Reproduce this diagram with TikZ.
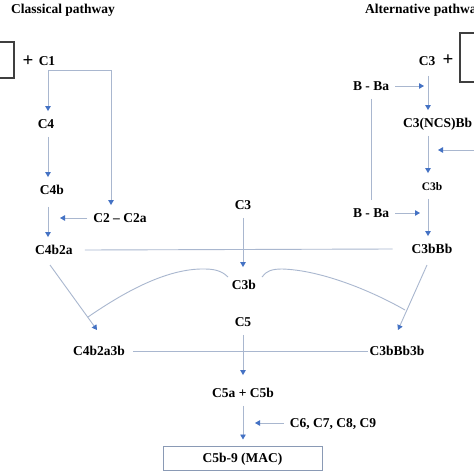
\documentclass[tikz,border=0pt]{standalone}
\usepackage{fontspec}
\setmainfont{Liberation Serif}
\usetikzlibrary{arrows.meta}
\definecolor{lnc}{HTML}{A9B7CF}
\definecolor{arc}{HTML}{4472C4}
\definecolor{bxc}{HTML}{3F3F3F}
\definecolor{macc}{HTML}{8A9AB5}
\begin{document}
\begin{tikzpicture}[x=1pt,y=-1pt,
  lab/.style={font=\fontsize{13.5}{16}\selectfont\bfseries, text height=9.5pt, text depth=0pt, inner xsep=6pt, inner ysep=8pt},
  small/.style={lab, font=\fontsize{11.5}{14}\selectfont\bfseries},
  plus/.style={font=\fontsize{19}{20}\selectfont\bfseries, inner sep=0pt},
  ttl/.style={font=\fontsize{13.5}{16}\selectfont\bfseries, inner sep=0pt},
  ln/.style={draw=lnc, line width=0.9pt},
  arr/.style={ln, -{Triangle[width=5.5pt,length=5pt,color=arc]}},
  outbox/.style={draw=bxc, line width=1.2pt}]
\useasboundingbox (0,0) rectangle (474,474);
\clip (0,0) rectangle (474,474);
\fill[white] (0,0) rectangle (474,474);
% titles
\node[ttl] (t1) at (63,10) {Classical pathway};
\node[ttl, anchor=west] (t2) at (365,10) {Alternative pathway};
% outer boxes
\draw[outbox] (-20,42) rectangle (14,78);
\draw[outbox] (460,33) rectangle (510,82);
% column coordinates
\coordinate (colL) at (48,0);
\coordinate (colR) at (428,0);
\coordinate (colM) at (243,0);
% classical nodes
\node[plus] (p1) at (28,61) {+};
\node[lab] (C1) at (47,61) {C1};
\node[lab] (C4) at (46,124) {C4};
\node[lab] (C4b) at (52,190) {C4b};
\node[lab] (C2) at (120,218) {C2 -- C2a};
\node[lab] (C4b2a) at (54,250) {C4b2a};
% alternative nodes
\node[lab] (C3r) at (427,61) {C3};
\node[plus] (p2) at (448,60) {+};
\node[lab] (Bba1) at (371,86) {B - Ba};
\node[lab, anchor=west] (NCS) at (397,123) {C3(NCS)Bb};
\node[small] (C3bs) at (432,186) {C3b};
\node[lab] (Bba2) at (371,213) {B - Ba};
\node[lab] (C3bBb) at (432,249) {C3bBb};
% central nodes
\node[lab] (C3m) at (243,205) {C3};
\node[lab] (C3b) at (244,285) {C3b};
\node[lab] (C5) at (243,322) {C5};
\node[lab] (C4b2a3b) at (99,351) {C4b2a3b};
\node[lab] (C3bBb3b) at (397,351) {C3bBb3b};
\node[lab] (C5a) at (243,393) {C5a + C5b};
\node[lab] (C6) at (333,423) {C6, C7, C8, C9};
\node[lab, draw=macc, line width=1pt, minimum width=159pt, minimum height=24pt, inner ysep=0pt] (MAC) at (242.5,458) {C5b-9 (MAC)};
% helper coordinates
\coordinate (j1) at (48,70);
\coordinate (j2) at (111,70);
\coordinate (c2tip) at (60,218);
\coordinate (b1tip) at (424,86);
\coordinate (b2tip) at (420,213);
\coordinate (redge) at (474,150);
\coordinate (retip) at (438,150);
\coordinate (c6tip) at (255,423);
\coordinate (dL1) at (50,265);
\coordinate (dL2) at (97,330);
\coordinate (dR1) at (427,265);
\coordinate (dR2) at (398,330);
% classical connectors
\draw[ln] (C1.south -| colL) -- (j1);
\draw[arr] (j1) -- (C4.north -| colL);
\draw[arr] (j1) -- (j2) -- (j2 |- C2.north);
\draw[arr] (C4.south -| colL) -- (C4b.north -| colL);
\draw[arr] ([yshift=-4pt]C4b.south -| colL) -- (C4b2a.north -| colL);
\draw[arr] (C2.west) -- (c2tip);
\draw[ln] ([xshift=6pt]C4b2a.east) -- ([xshift=-13pt]C3bBb.west);
% alternative connectors
\draw[arr] ([yshift=-2pt]C3r.south -| colR) -- (NCS.north -| colR);
\draw[arr] (Bba1.east) -- (b1tip);
\draw[ln] (Bba1.south) -- (Bba2.north);
\draw[arr] (NCS.south -| colR) -- (C3bs.north -| colR);
\draw[arr] (redge) -- (retip);
\draw[arr] (Bba2.east) -- (b2tip);
\draw[arr] (C3bs.south -| colR) -- (C3bBb.north -| colR);
% central connectors
\draw[arr, shorten >=5pt] (C3m.south -| colM) -- (C3b.north -| colM);
\draw[arr] (dL1) -- (dL2);
\draw[arr] (dR1) -- (dR2);
\draw[ln] (88,317) .. controls (120,295) and (165,268) .. (205,269) .. controls (218,269) and (224,273) .. (228,277);
\draw[ln] (262,277) .. controls (266,271) and (272,269) .. (282,269) .. controls (320,270) and (370,290) .. (405,310);
\draw[ln] ([xshift=2pt]C4b2a3b.east) -- ([xshift=5pt]C3bBb3b.west);
\draw[arr, shorten >=5pt] (C5.south -| colM) -- (C5a.north -| colM);
\draw[arr, shorten >=6pt] (C5a.south -| colM) -- (MAC.north -| colM);
\draw[arr] (C6.west) -- (c6tip);
\end{tikzpicture}
\end{document}
